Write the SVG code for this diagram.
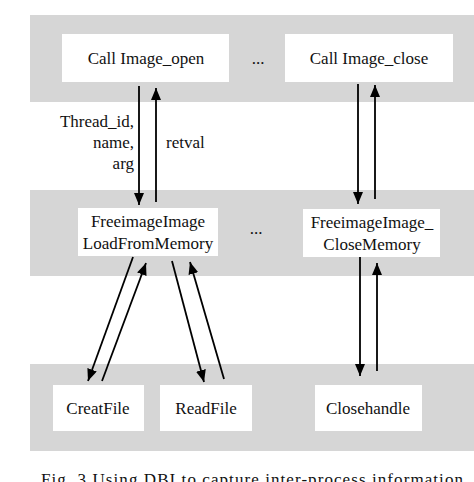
<svg xmlns="http://www.w3.org/2000/svg" width="474" height="482" viewBox="0 0 474 482">
<defs>
<style>
.band{fill:#d6d6d6}
.box{fill:#ffffff}
.t{font-family:"Liberation Serif","Times New Roman",serif;fill:#111;font-size:17px}
.c{text-anchor:middle}
.ln{stroke:#000;stroke-width:1.8;fill:none;marker-end:url(#ah)}
</style>
<marker id="ah" viewBox="0 0 12 10" refX="12" refY="5" markerWidth="12" markerHeight="10" markerUnits="userSpaceOnUse" orient="auto">
<path d="M0,0 L12,5 L0,10 Z" fill="#000"/>
</marker>
</defs>
<rect width="474" height="482" fill="#fff"/>
<g id="bands">
<rect class="band" x="30" y="15" width="444" height="87"/>
<rect class="band" x="30" y="190" width="444" height="86"/>
<rect class="band" x="30" y="364" width="444" height="87"/>
</g>
<g id="n_open"><rect class="box" x="62" y="34" width="167" height="48"/><text class="t c" x="146" y="64">Call Image_open</text></g>
<g id="n_close"><rect class="box" x="285" y="34" width="168" height="48"/><text class="t c" x="369" y="64">Call Image_close</text></g>
<g id="dots1"><text class="t c" x="258" y="64">...</text></g>
<g id="n_load"><rect class="box" x="78" y="208" width="140" height="48"/><text class="t c" x="148" y="227" font-size="16">FreeimageImage</text><text class="t c" x="148" y="249" font-size="16">LoadFromMemory</text></g>
<g id="dots2"><text class="t c" x="256" y="234">...</text></g>
<g id="n_closemem"><rect class="box" x="303" y="209" width="137" height="48"/><text class="t c" x="372" y="228" font-size="16">FreeimageImage_</text><text class="t c" x="372" y="250" font-size="16">CloseMemory</text></g>
<g id="n_creat"><rect class="box" x="53" y="385" width="91" height="46"/><text class="t c" x="98" y="414">CreatFile</text></g>
<g id="n_read"><rect class="box" x="160" y="385" width="92" height="46"/><text class="t c" x="206" y="414">ReadFile</text></g>
<g id="n_closeh"><rect class="box" x="315" y="385" width="107" height="46"/><text class="t c" x="368" y="414">Closehandle</text></g>
<g id="connectors">
<line class="ln" x1="139" y1="86" x2="139" y2="205"/>
<line class="ln" x1="156" y1="202" x2="156" y2="88"/>
<line class="ln" x1="358" y1="84" x2="358" y2="204"/>
<line class="ln" x1="375" y1="199" x2="375" y2="85"/>
<line class="ln" x1="133" y1="257" x2="88" y2="381"/>
<line class="ln" x1="102" y1="381" x2="146" y2="263"/>
<line class="ln" x1="172" y1="261" x2="204" y2="382"/>
<line class="ln" x1="224" y1="379" x2="190" y2="262"/>
<line class="ln" x1="360" y1="257" x2="360" y2="376"/>
<line class="ln" x1="377" y1="371" x2="377" y2="263"/>
</g>
<g id="labels">
<text class="t" x="134" y="127" text-anchor="end">Thread_id,</text>
<text class="t" x="134" y="148" text-anchor="end">name,</text>
<text class="t" x="134" y="169" text-anchor="end">arg</text>
<text class="t" x="166" y="148">retval</text>
</g>
<text class="t" x="41" y="485" font-size="22" textLength="422" lengthAdjust="spacing">Fig. 3 Using DBI to capture inter-process information</text>
</svg>
